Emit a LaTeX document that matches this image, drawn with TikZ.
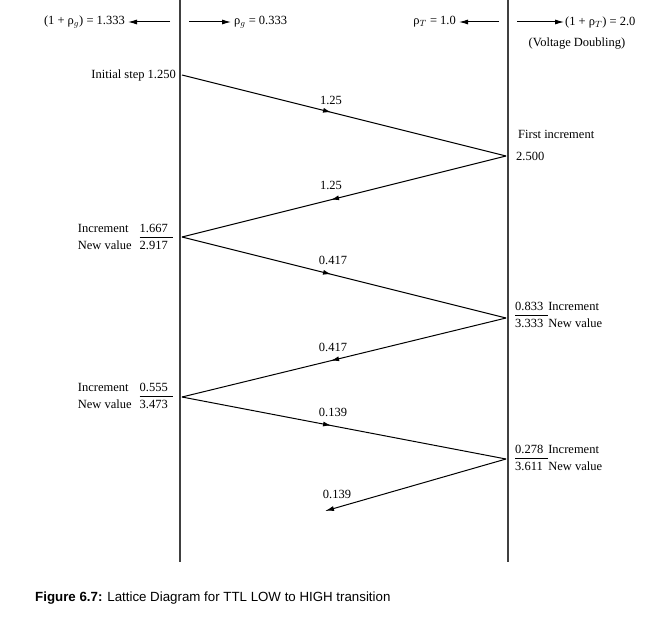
\documentclass[tikz,border=0pt]{standalone}
\usepackage{fontspec}
\setmainfont{Liberation Serif}
\newfontfamily\capfont{Liberation Sans}
\usetikzlibrary{decorations.markings,arrows.meta}
\begin{document}
\begin{tikzpicture}[x=1pt,y=-1pt,
  wave/.style={line width=1pt,postaction={decorate},decoration={markings,mark=at position #1 with {\arrow{Latex[length=8pt,width=5pt]}}}},
  wave/.default=0.46,
  hdr/.style={line width=1pt,-{Latex[length=9pt,width=5pt]}},
  lbl/.style={font=\fontsize{12.5}{15}\selectfont,inner sep=1pt},
  wire/.style={line width=1.1pt,black!75}]
\useasboundingbox (0,0) rectangle (652,623);
\draw[wire] (180,0) -- (180,562);
\draw[wire] (508,0) -- (508,562);
% header
\coordinate (h1a) at (170,22); \coordinate (h1b) at (128,22);
\draw[hdr] (h1a) -- (h1b);
\node[lbl,anchor=east] (t1) at (126,22) {(1 + ρ$_g$) = 1.333};
\coordinate (h2a) at (189,22); \coordinate (h2b) at (231,22);
\draw[hdr] (h2a) -- (h2b);
\node[lbl,anchor=west] (t2) at (233,22) {ρ$_g$ = 0.333};
\coordinate (h3a) at (499,22); \coordinate (h3b) at (459,22);
\draw[hdr] (h3a) -- (h3b);
\node[lbl,anchor=east] (t3) at (457,22) {ρ$_T$ = 1.0};
\coordinate (h4a) at (517,22); \coordinate (h4b) at (564,22);
\draw[hdr] (h4a) -- (h4b);
\node[lbl,anchor=west] (t4) at (564,22) {(1 + ρ$_T$) = 2.0};
\node[lbl] (vd) at (577,44) {(Voltage Doubling)};
% zigzag
\coordinate (a) at (182,75);
\coordinate (b) at (506,156);
\coordinate (c) at (182,237);
\coordinate (d) at (506,318);
\coordinate (e) at (182,397);
\coordinate (f) at (506,459);
\coordinate (g) at (325,511);
\draw[wave] (a) -- (b);
\draw[wave=0.54] (b) -- (c);
\draw[wave] (c) -- (d);
\draw[wave=0.54] (d) -- (e);
\draw[wave] (e) -- (f);
\draw[line width=1pt,-{Latex[length=9pt,width=5pt]}] (f) -- (g);
\node[lbl] (l1) at (331,100) {1.25};
\node[lbl] (l2) at (331,185) {1.25};
\node[lbl] (l3) at (333,260) {0.417};
\node[lbl] (l4) at (333,347) {0.417};
\node[lbl] (l5) at (333,412) {0.139};
\node[lbl] (l6) at (337,494) {0.139};
% side labels
\node[lbl,anchor=east] (s1) at (177,75) {Initial step 1.250};
\node[lbl,anchor=west] (s2) at (517,134) {First increment};
\node[lbl,anchor=west] (s3) at (515,156) {2.500};
\node[lbl,anchor=east] (s4) at (169,238) {\begin{tabular}{@{}l@{\hspace{8pt}}l@{}}Increment & 1.667\\[0pt] New value & \makebox[0pt][l]{\rule[11.3pt]{33pt}{0.6pt}}2.917\end{tabular}};
\node[lbl,anchor=east] (s5) at (169,397) {\begin{tabular}{@{}l@{\hspace{8pt}}l@{}}Increment & 0.555\\[0pt] New value & \makebox[0pt][l]{\rule[11.3pt]{33pt}{0.6pt}}3.473\end{tabular}};
\node[lbl,anchor=west] (s6) at (514,316) {\begin{tabular}{@{}l@{\hspace{5pt}}l@{}}0.833 & Increment\\[0pt] \makebox[0pt][l]{\rule[11.3pt]{33pt}{0.6pt}}3.333 & New value\end{tabular}};
\node[lbl,anchor=west] (s7) at (514,459) {\begin{tabular}{@{}l@{\hspace{5pt}}l@{}}0.278 & Increment\\[0pt] \makebox[0pt][l]{\rule[11.3pt]{33pt}{0.6pt}}3.611 & New value\end{tabular}};
\node[anchor=west,inner sep=0pt,font=\capfont\fontsize{13.3}{15}\selectfont] (cap) at (35,598) {\textbf{Figure 6.7:} Lattice Diagram for TTL LOW to HIGH transition};
\end{tikzpicture}
\end{document}
